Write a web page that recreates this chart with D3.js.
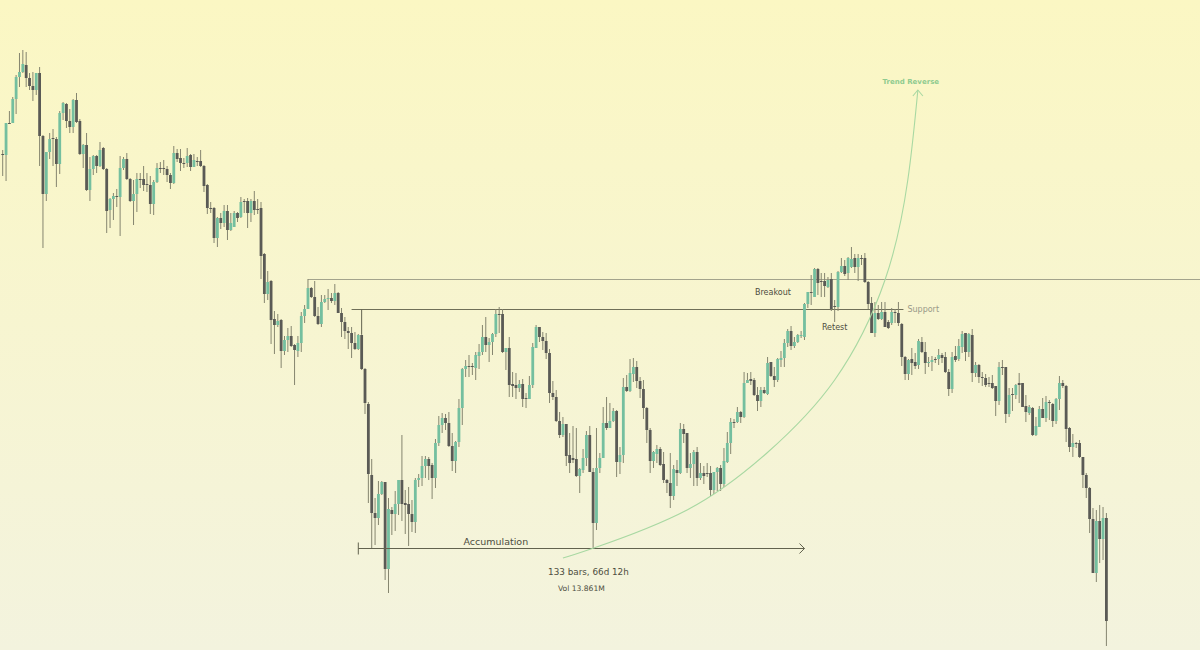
<!DOCTYPE html>
<html>
<head>
<meta charset="utf-8">
<script src="https://cdn.jsdelivr.net/npm/d3@7"></script>
<style>
  html, body { margin: 0; padding: 0; overflow: hidden; }
  text { font-family: "DejaVu Sans", sans-serif; }
</style>
</head>
<body>
<div class="chart"></div>
<script>
// candle values, one entry per bar
const opens = [
  496,495,527,527,551,573,578,585,572,564,
  560,577,514,456,498,512,511,486,537,546,
  529,523,550,529,496,505,460,481,494,484,
  502,481,440,451,454,453,482,491,471,449,
  456,471,471,466,465,446,468,482,482,481,
  475,467,497,492,487,487,495,483,489,489,
  484,465,442,442,412,432,427,439,420,423,
  437,433,449,449,437,449,441,442,396,356,
  369,331,325,330,299,310,314,305,299,307,
  334,341,362,353,334,326,348,351,352,349,
  357,337,328,319,317,307,301,315,281,246,
  175,137,132,156,168,81,140,136,146,170,
  147,146,136,128,170,172,184,191,185,172,
  207,225,232,227,204,189,208,242,281,284,
  284,282,294,298,313,305,308,316,336,336,
  298,302,266,265,262,266,252,251,265,302,
  323,313,309,297,257,253,229,215,226,195,
  192,191,174,180,192,215,178,127,182,192,
  227,222,229,239,188,195,263,259,276,283,
  269,261,242,220,189,196,201,186,170,167,
  154,180,177,221,217,182,186,198,172,177,
  177,177,160,178,182,166,188,207,228,228,
  238,233,267,271,270,255,249,260,256,288,
  274,270,290,292,307,319,304,308,314,313,
  346,358,353,381,369,369,363,371,344,343,
  378,384,377,383,392,383,392,392,368,347,
  317,337,331,338,328,327,338,337,326,293,
  276,291,288,285,308,298,287,288,291,291,
  295,293,278,261,294,291,303,317,298,315,
  277,285,273,272,267,267,264,249,283,283,
  236,256,255,267,267,244,237,242,215,223,
  241,232,248,246,229,251,267,264,222,203,
  207,207,193,175,162,131,77,129,111,132
];
const highs = [
  500,527,539,553,575,597,600,598,577,578,
  577,583,515,498,517,521,513,539,548,547,
  541,551,557,531,506,517,493,495,495,508,
  503,482,452,457,461,494,493,497,472,470,
  477,477,484,477,474,470,487,488,490,484,
  477,504,501,501,492,502,496,496,493,500,
  485,466,448,443,433,437,445,445,437,439,
  438,453,451,452,451,459,451,448,397,379,
  370,339,336,331,314,322,324,306,314,338,
  345,371,363,369,343,355,355,361,357,366,
  358,342,333,323,323,318,316,316,282,248,
  191,152,169,169,168,152,143,159,170,215,
  160,163,150,172,176,194,194,193,187,211,
  234,237,236,238,217,209,251,282,290,295,
  287,298,306,325,333,312,317,341,343,341,
  302,313,278,277,270,271,257,274,307,325,
  323,318,317,301,269,260,238,233,226,217,
  224,222,182,201,219,224,182,222,197,243,
  253,247,242,240,203,272,275,291,292,289,
  273,270,243,222,199,205,203,198,171,197,
  185,190,227,226,217,197,200,203,187,184,
  187,184,178,183,185,202,218,232,231,243,
  239,278,277,278,272,263,263,263,293,288,
  283,292,299,311,321,324,313,316,319,347,
  358,375,382,382,377,377,373,377,350,379,
  392,390,393,403,396,396,395,397,369,353,
  348,345,348,348,330,342,341,348,327,294,
  291,302,297,311,313,308,293,294,293,301,
  297,298,281,298,304,311,319,317,317,321,
  288,286,278,276,273,275,264,288,290,283,
  262,262,266,277,267,255,245,243,233,244,
  252,254,250,247,252,274,270,265,223,216,
  208,210,193,177,163,142,140,145,143,137
];
const lows = [
  474,469,526,527,536,563,577,563,560,549,
  555,484,402,449,491,484,463,476,530,522,
  517,517,527,495,482,459,449,475,477,483,
  480,417,422,430,443,414,480,470,448,425,
  438,462,459,458,436,435,467,477,475,468,
  461,466,488,479,482,483,479,483,484,483,
  458,436,437,407,403,421,423,410,419,423,
  428,432,437,422,428,435,436,371,347,350,
  306,296,323,282,295,298,303,265,293,298,
  327,341,352,333,325,323,347,340,347,345,
  337,313,311,301,292,300,300,280,236,147,
  101,105,125,155,70,57,115,119,135,129,
  116,104,118,117,163,164,172,170,151,162,
  204,217,220,203,179,177,203,225,273,273,
  275,270,281,295,298,288,295,313,317,297,
  280,253,253,251,258,243,242,251,262,302,
  308,300,291,247,250,228,212,213,184,177,
  187,173,157,177,184,178,102,120,177,192,
  220,222,228,173,176,187,258,258,268,262,
  252,231,207,177,182,187,184,167,157,142,
  150,164,176,207,177,172,164,164,170,166,
  173,154,156,159,159,163,187,196,222,227,
  227,232,267,265,254,239,243,256,255,273,
  263,268,283,283,303,300,302,307,312,310,
  342,345,353,355,353,353,362,339,328,339,
  377,374,370,382,377,369,385,367,341,317,
  313,330,330,323,321,325,327,324,284,270,
  270,275,281,281,297,276,283,279,287,285,
  287,277,254,257,288,289,297,289,293,268,
  273,267,264,263,263,261,234,245,275,227,
  233,239,251,247,243,228,235,214,214,223,
  232,228,230,223,226,240,262,208,198,193,
  202,192,162,152,117,77,68,87,90,4
];
const closes = [
  495,527,526,551,573,578,586,572,564,560,
  577,514,456,498,511,511,486,537,547,529,
  523,550,528,496,505,460,481,494,484,500,
  481,439,451,454,453,482,491,471,449,456,
  471,470,465,465,446,468,482,481,481,475,
  467,497,491,487,486,494,483,490,488,484,
  464,442,441,412,432,427,439,420,427,437,
  432,448,448,437,449,440,440,394,356,368,
  330,325,329,299,310,314,304,300,307,334,
  341,362,353,334,326,348,351,352,349,357,
  337,328,319,317,307,301,315,281,247,176,
  137,132,156,168,81,141,136,146,170,146,
  145,136,128,170,172,184,191,184,172,207,
  225,232,227,204,189,208,242,281,284,283,
  283,295,298,313,305,308,316,336,335,298,
  302,265,264,262,266,251,251,265,303,323,
  313,309,297,257,253,229,215,226,194,187,
  190,174,181,192,215,178,127,182,192,227,
  222,229,239,188,195,263,259,277,283,269,
  261,242,220,189,198,201,185,170,167,154,
  181,177,221,216,182,186,198,172,177,174,
  176,160,178,182,166,189,207,228,227,238,
  233,267,270,269,255,249,260,257,287,274,
  270,291,292,307,319,304,308,315,315,346,
  358,357,381,367,368,364,370,341,343,378,
  384,376,392,391,383,392,391,368,346,317,
  337,331,338,323,322,338,337,327,293,276,
  290,287,284,309,298,287,288,290,290,295,
  292,278,261,293,290,304,316,298,316,277,
  285,273,272,265,266,262,249,283,282,236,
  255,255,265,265,243,238,243,215,224,241,
  232,248,247,229,251,267,264,221,203,207,
  206,193,175,162,131,77,129,111,132,29
];

// the curved trend line, in bars and price
const curveBars = [167,176.2,204,227.8,248,263,269.8,272.8];
const curvePrices = [92,102,140,197,270,370,470,560];

// drawn annotations
const resistancePrice = 370.5, resistanceFrom = 91, resistanceTo = 358;
const supportPrice = 340.5, supportFrom = 104, supportTo = 268.5;
const rangeFrom = 106, rangeTo = 239, rangePrice = 101.5;

const labels = ["Accumulation", "133 bars, 66d 12h", "Vol 13.861M", "Breakout", "Retest", "Support", "Trend Reverse"];
const labelBars = [147, 174.6, 172.5, 229.6, 248, 274.4, 270.7];
const labelPrices = [105, 75, 59, 355, 320, 338, 566];
const labelSizes = [9.5, 8.8, 7.6, 8, 8, 8, 7];
const labelColors = ["#4d4d40", "#4d4d40", "#4d4d40", "#4d4d40", "#4d4d40", "#999988", "#8fcb8f"];

const width = 1200, height = 650;

const svg = d3.select(".chart").append("svg")
    .attr("width", width)
    .attr("height", height)
    .style("display", "block");

const grad = svg.append("defs").append("linearGradient")
    .attr("id", "bg")
    .attr("x1", 0).attr("y1", 0).attr("x2", 0).attr("y2", 1);
grad.append("stop").attr("offset", "0%").attr("stop-color", "#fbf7c3");
grad.append("stop").attr("offset", "100%").attr("stop-color", "#f3f3de");

svg.append("rect")
    .attr("width", width)
    .attr("height", height)
    .attr("fill", "url(#bg)");

const xScale = d3.scaleLinear().domain([0, closes.length - 1]).range([2.7, 1106.4]);
const yScale = d3.scaleLinear().domain([0, 650]).range([650, 0]);
const bodyWidth = 2.8;

// horizontal levels
svg.append("line")
    .attr("x1", xScale(resistanceFrom)).attr("x2", xScale(resistanceTo))
    .attr("y1", yScale(resistancePrice)).attr("y2", yScale(resistancePrice))
    .attr("stroke", "#a3a38c").attr("stroke-width", 1);

svg.append("line")
    .attr("x1", xScale(supportFrom)).attr("x2", xScale(supportTo))
    .attr("y1", yScale(supportPrice)).attr("y2", yScale(supportPrice))
    .attr("stroke", "#6f6f58").attr("stroke-width", 1);

// wicks
svg.selectAll(".wick")
    .data(closes)
    .enter()
    .append("line")
    .attr("class", "wick")
    .attr("x1", (d, i) => xScale(i))
    .attr("x2", (d, i) => xScale(i))
    .attr("y1", (d, i) => yScale(highs[i]))
    .attr("y2", (d, i) => yScale(lows[i]))
    .attr("stroke", "#85856f")
    .attr("stroke-width", 1);

// bodies
svg.selectAll(".body")
    .data(closes)
    .enter()
    .append("rect")
    .attr("class", "body")
    .attr("x", (d, i) => xScale(i) - bodyWidth / 2)
    .attr("y", (d, i) => yScale(Math.max(opens[i], d)))
    .attr("width", bodyWidth)
    .attr("height", (d, i) => Math.max(1, Math.abs(yScale(opens[i]) - yScale(d))))
    .attr("fill", (d, i) => d >= opens[i] ? "#74bf9f" : "#5a5a55");

// bars-range measure
const measure = svg.append("g")
    .attr("stroke", "#62624e")
    .attr("stroke-width", 1)
    .attr("fill", "none");

measure.append("line")
    .attr("x1", xScale(rangeFrom)).attr("x2", xScale(rangeTo))
    .attr("y1", yScale(rangePrice)).attr("y2", yScale(rangePrice));
measure.append("line")
    .attr("x1", xScale(rangeFrom)).attr("x2", xScale(rangeFrom))
    .attr("y1", yScale(rangePrice + 6)).attr("y2", yScale(rangePrice - 6));
measure.append("line")
    .attr("x1", xScale(rangeFrom + 1)).attr("x2", xScale(rangeFrom + 1))
    .attr("y1", yScale(supportPrice)).attr("y2", yScale(highs[rangeFrom + 1]));
measure.append("path")
    .attr("d", d3.line()([
      [xScale(rangeTo) - 5, yScale(rangePrice + 5)],
      [xScale(rangeTo), yScale(rangePrice)],
      [xScale(rangeTo) - 5, yScale(rangePrice - 5)]
    ]));

// trend curve and arrow
const curve = d3.line()
    .x((d, i) => xScale(curveBars[i]))
    .y(d => yScale(d))
    .curve(d3.curveNatural);

svg.append("path")
    .attr("d", curve(curvePrices))
    .attr("fill", "none")
    .attr("stroke", "#a8d8a2")
    .attr("stroke-width", 1.1);

const tipBar = curveBars[curveBars.length - 1], tipPrice = curvePrices[curvePrices.length - 1];
svg.append("path")
    .attr("d", d3.line()([
      [xScale(tipBar) - 5, yScale(tipPrice - 6)],
      [xScale(tipBar), yScale(tipPrice)],
      [xScale(tipBar) + 5, yScale(tipPrice - 6)]
    ]))
    .attr("fill", "none")
    .attr("stroke", "#a8d8a2")
    .attr("stroke-width", 1.1);

svg.selectAll(".label")
    .data(labels)
    .enter()
    .append("text")
    .attr("class", "label")
    .attr("x", (d, i) => xScale(labelBars[i]))
    .attr("y", (d, i) => yScale(labelPrices[i]))
    .attr("text-anchor", "middle")
    .attr("font-size", (d, i) => labelSizes[i])
    .attr("font-weight", d => d == "Trend Reverse" ? "bold" : "normal")
    .attr("fill", (d, i) => labelColors[i])
    .text(d => d);
</script>
</body>
</html>
